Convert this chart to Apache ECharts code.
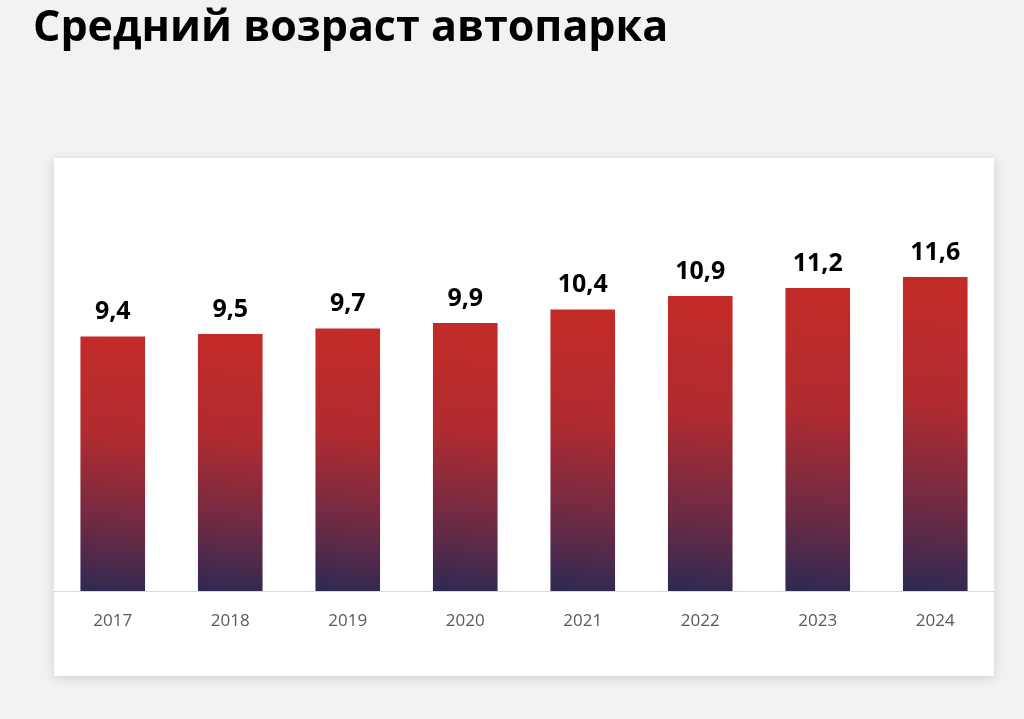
<!DOCTYPE html>
<html><head><meta charset="utf-8">
<script src="https://cdn.jsdelivr.net/npm/echarts@6/dist/echarts.min.js"></script>
<style>html,body{margin:0;background:#f2f2f2;}#c{width:1024px;height:719px;}</style>
</head><body><div id="c"></div>
<script>
const categories = ['2017','2018','2019','2020','2021','2022','2023','2024'];
const values = [9.4, 9.5, 9.7, 9.9, 10.4, 10.9, 11.2, 11.6];
const title = 'Средний возраст автопарка';
const chart = echarts.init(document.getElementById('c'));
chart.setOption({
  backgroundColor: '#f2f2f2',
  animation: false,
  title: { text: title, left: 28, top: 2, textStyle: { fontFamily: 'Open Sans', fontWeight: 'bold', fontSize: 43, color: '#000' } },
  graphic: [{ type: 'rect', shape: { x: 54, y: 158, width: 940, height: 518 }, style: { fill: '#fff', shadowBlur: 10, shadowColor: 'rgba(0,0,0,0.15)', shadowOffsetY: 2 }, z: -1 }],
  grid: { left: 54, right: 30, top: 158, bottom: 128 },
  xAxis: { type: 'category', data: categories,
    axisLine: { lineStyle: { color: '#d9d9d9' } }, axisTick: { show: false },
    axisLabel: { color: '#595959', fontSize: 17, fontFamily: 'Open Sans', margin: 22 } },
  yAxis: { type: 'value', min: 0, max: 16, show: false, splitLine: { show: false } },
  series: [{ type: 'bar', data: values, barWidth: '55%',
    itemStyle: { color: new echarts.graphic.LinearGradient(0, 1, 0.5, 0, [
      { offset: 0, color: '#2e2952' }, { offset: 0.25, color: '#6a2a45' }, { offset: 0.6, color: '#b02b30' }, { offset: 1, color: '#c42b28' }]) },
    label: { show: true, position: 'top', distance: 12, color: '#000', fontSize: 25, fontWeight: 'bold', fontFamily: 'Open Sans',
      formatter: p => String(p.value.toFixed(1)).replace('.', ',') } }]
});
</script></body></html>
